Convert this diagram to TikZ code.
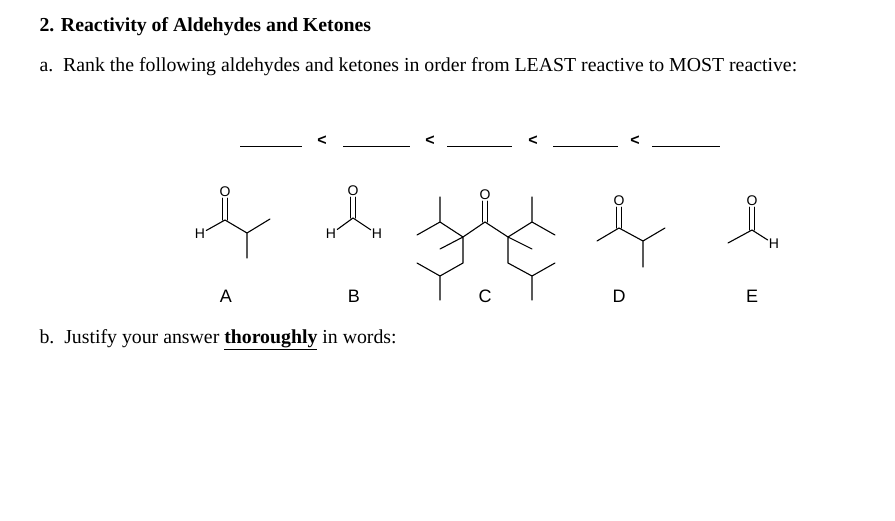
\documentclass[tikz,border=0pt]{standalone}
\usepackage{fontspec}
\setmainfont{Liberation Serif}
\newfontfamily\atomfont{Liberation Sans}
\begin{document}
\begin{tikzpicture}[x=1pt,y=-1pt,
  bond/.style={line width=1.1pt,line cap=round},
  atom/.style={font=\atomfont\fontsize{14}{14}\selectfont,inner sep=1pt,fill=white},
  lbl/.style={font=\atomfont\fontsize{18}{18}\selectfont},
  txt/.style={anchor=west,font=\fontsize{19.8}{22}\selectfont}]
\useasboundingbox (0,0) rectangle (895,520);
\node[txt] (t) at (36,27) {\textbf{2. Reactivity of Aldehydes and Ketones}};
\node[txt] (a) at (36,67) {a.\ \ Rank the following aldehydes and ketones in order from LEAST reactive to MOST reactive:};
\node[txt] (b) at (36,340) {b.\ \ Justify your answer \textbf{\underline{thoroughly}} in words:};
% blanks
\foreach \xa/\xb in {240/302,343/410,447/512,553/618,652/720}{
  \draw[line width=0.8pt] (\xa,146) -- (\xb,146);}
\foreach \x/\n in {322/l1,430/l2,533/l3,635/l4}{
  \node[font=\atomfont\bfseries\fontsize{16}{16}\selectfont] (\n) at (\x,141) {<};}
% A
\node[atom] (AO) at (225,192) {O};
\node[atom] (AH) at (200,234) {H};
\coordinate (AC) at (225,220); \coordinate (ACH) at (247,233);
\draw[bond] ([xshift=-2.5]AO.south) -- ([xshift=-2.5]AC);
\draw[bond] ([xshift=2.5]AO.south) -- ([xshift=2.5]AC);
\draw[bond] (AH) -- (AC) -- (ACH) -- (270,219) (ACH) -- (247,258);
% B
\node[atom] (BO) at (353,191) {O};
\node[atom] (BH1) at (331,234) {H};
\node[atom] (BH2) at (377,234) {H};
\coordinate (BC) at (353,218);
\draw[bond] ([xshift=-2.5]BO.south) -- ([xshift=-2.5]BC);
\draw[bond] ([xshift=2.5]BO.south) -- ([xshift=2.5]BC);
\draw[bond] (BH1) -- (BC) -- (BH2);
% C
\node[atom] (CO) at (485,195) {O};
\coordinate (CC) at (485,222);
\draw[bond] ([xshift=-2.5]CO.south) -- ([xshift=-2.5]CC);
\draw[bond] ([xshift=2.5]CO.south) -- ([xshift=2.5]CC);
\draw[bond] (CC) -- (463,237) -- (440,222) -- (440,197) (440,222) -- (417,235)
  (463,237) -- (440,249) (463,237) -- (463,263) -- (440,276) -- (417,263) (440,276) -- (440,300);
\draw[bond] (CC) -- (508,237) -- (532,222) -- (532,197) (532,222) -- (555,235)
  (508,237) -- (532,249) (508,237) -- (508,263) -- (532,276) -- (555,263) (532,276) -- (532,300);
% D
\node[atom] (DO) at (619,201) {O};
\coordinate (DC) at (619,228); \coordinate (DCH) at (643,241);
\draw[bond] ([xshift=-2.5]DO.south) -- ([xshift=-2.5]DC);
\draw[bond] ([xshift=2.5]DO.south) -- ([xshift=2.5]DC);
\draw[bond] (597,241) -- (DC) -- (DCH) -- (665,228) (DCH) -- (643,267);
% E
\node[atom] (EO) at (752,201) {O};
\node[atom] (EH) at (774,244) {H};
\coordinate (EC) at (752,230);
\draw[bond] ([xshift=-2.5]EO.south) -- ([xshift=-2.5]EC);
\draw[bond] ([xshift=2.5]EO.south) -- ([xshift=2.5]EC);
\draw[bond] (728,243) -- (EC) -- (EH);
% labels
\node[lbl] (LA) at (226,296) {A};
\node[lbl] (LB) at (354,296) {B};
\node[lbl] (LC) at (485,296) {C};
\node[lbl] (LD) at (619,296) {D};
\node[lbl] (LE) at (752,296) {E};
\end{tikzpicture}
\end{document}
